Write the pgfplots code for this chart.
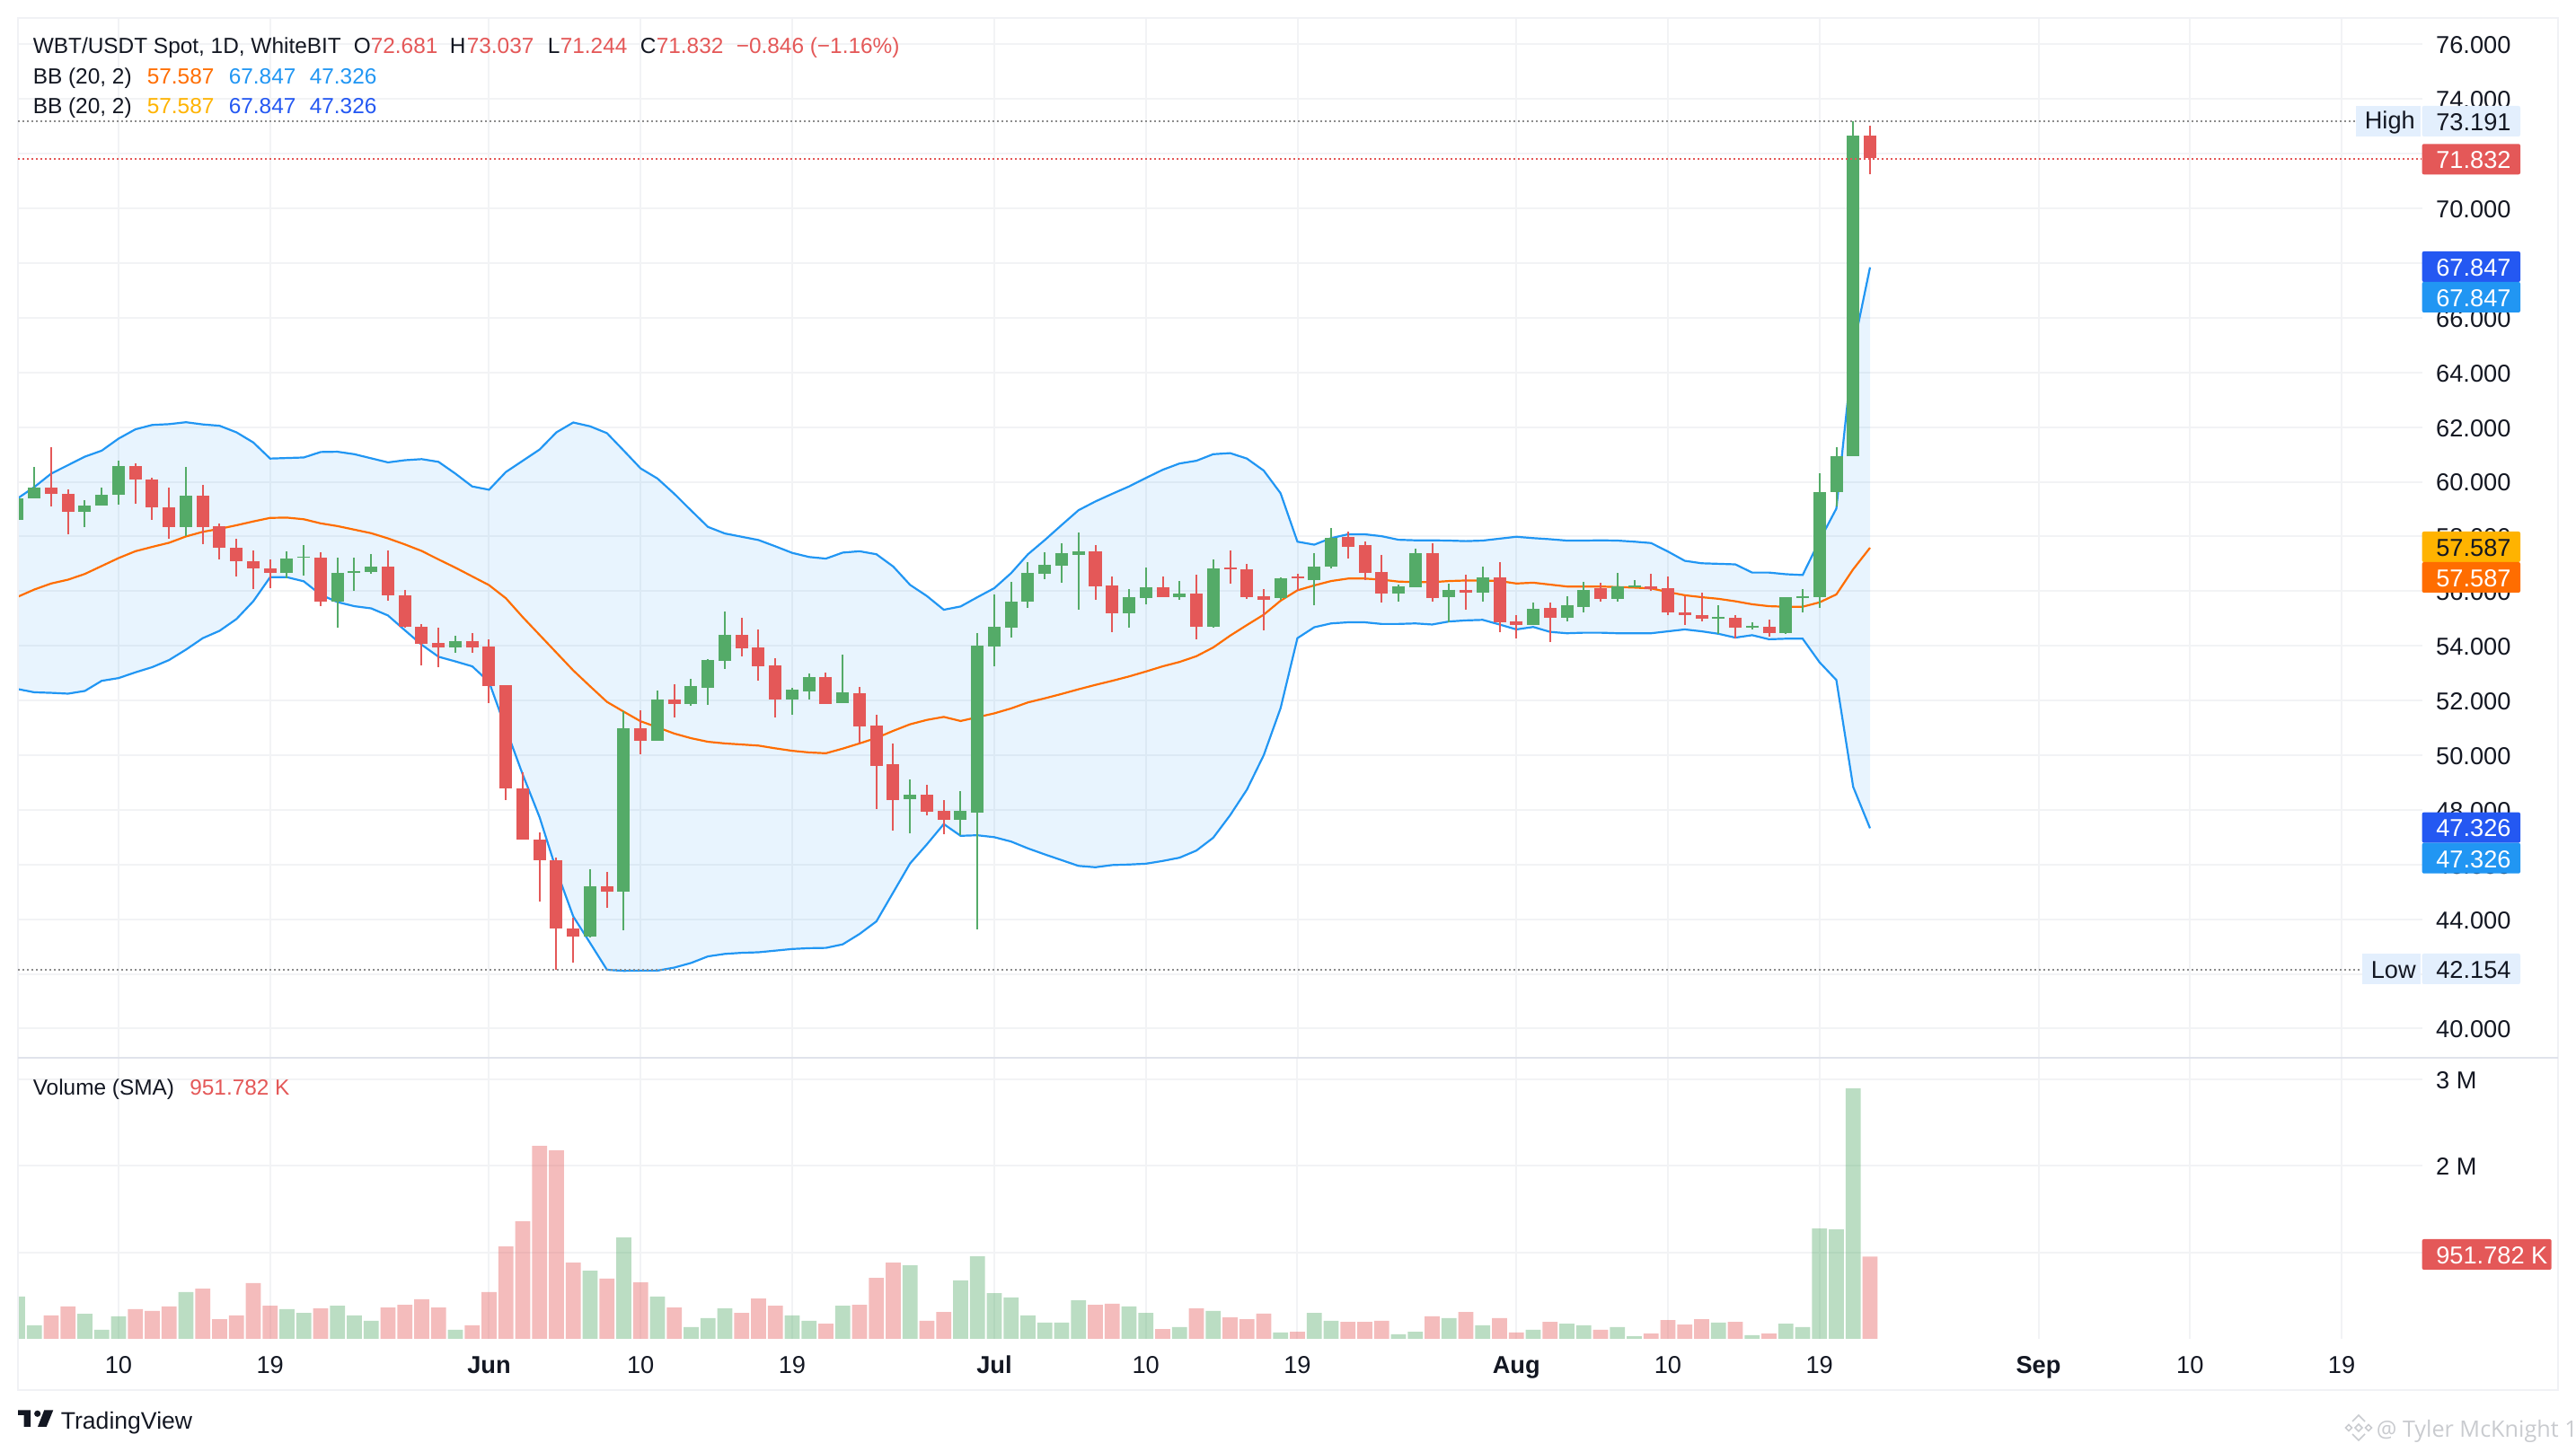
\documentclass[border=0pt]{standalone}
\usepackage{pgfplots}
\usepackage{pgfplotstable}
\usepackage{fontspec}
\setmainfont{Liberation Sans}
\newfontfamily\wmfont{Open Sans}
\pgfplotsset{compat=1.18}
\usepgfplotslibrary{fillbetween}
\definecolor{tvgreen}{HTML}{54AB68}
\definecolor{tvred}{HTML}{E45858}
\definecolor{bbblue}{HTML}{2196F3}
\definecolor{bbdark}{HTML}{2458F2}
\definecolor{bborange}{HTML}{FF6D00}
\definecolor{bbamber}{HTML}{FFB300}
\definecolor{txt}{HTML}{131722}
\definecolor{gridc}{HTML}{F2F3F5}
\definecolor{borderc}{HTML}{F0F1F5}
\definecolor{sepc}{HTML}{E0E3EB}
\definecolor{hlbg}{HTML}{E3EFFD}
\definecolor{wm}{HTML}{C9CBCF}

% d open high low close volume(M)
\pgfplotstableread{
d o h l c v
-6 58.59 60.17 58.42 59.39 0.488
-5 59.38 60.56 59.38 59.78 0.156
-2 58.91 59.33 58.34 59.13 0.290
-1 59.12 59.78 59.12 59.51 0.104
0 59.51 60.78 59.18 60.57 0.260
4 58.35 60.56 58.03 59.49 0.540
10 56.66 57.46 56.46 57.20 0.343
11 57.21 57.69 56.58 57.27 0.301
13 55.61 57.23 54.65 56.67 0.384
14 56.66 57.23 56.02 56.72 0.270
15 56.69 57.37 56.64 56.90 0.208
20 53.93 54.37 53.75 54.18 0.104
28 43.38 45.82 43.32 45.20 0.789
30 45.00 51.61 43.58 50.97 1.173
32 50.54 52.37 50.54 52.04 0.488
34 51.87 52.79 51.80 52.53 0.135
35 52.47 53.52 51.84 53.48 0.239
36 53.46 55.25 53.15 54.40 0.353
40 52.05 52.46 51.47 52.40 0.270
41 52.34 52.99 52.04 52.86 0.208
43 51.91 53.68 51.91 52.30 0.384
47 48.39 49.11 47.14 48.55 0.851
50 47.64 48.68 47.07 47.96 0.675
51 47.89 54.47 43.62 54.01 0.955
52 53.97 55.88 53.25 54.70 0.529
53 54.67 56.35 54.30 55.62 0.478
54 55.62 57.06 55.38 56.67 0.270
55 56.64 57.42 56.44 56.97 0.187
56 56.94 57.75 56.31 57.39 0.187
57 57.33 58.15 55.32 57.46 0.446
60 55.19 56.08 54.67 55.78 0.374
61 55.75 56.86 55.52 56.15 0.301
63 55.78 56.37 55.69 55.91 0.135
65 54.71 57.17 54.67 56.84 0.322
69 55.74 56.50 55.68 56.46 0.073
71 56.39 57.38 55.50 56.91 0.301
72 56.89 58.30 56.82 57.94 0.208
76 55.90 56.24 55.63 56.19 0.052
77 56.13 57.54 56.13 57.38 0.083
79 55.77 56.26 54.87 56.06 0.239
81 55.95 56.91 55.63 56.51 0.156
84 54.75 55.59 54.75 55.34 0.104
86 55.03 55.83 54.91 55.50 0.176
87 55.43 56.33 55.23 56.06 0.156
89 55.70 56.66 55.61 56.17 0.135
90 56.13 56.42 56.13 56.22 0.031
95 54.98 55.50 54.44 55.05 0.187
97 54.67 54.85 54.60 54.74 0.042
99 54.48 55.78 54.42 55.78 0.176
100 55.74 56.08 55.23 55.83 0.135
101 55.79 60.33 55.40 59.63 1.277
102 59.61 61.27 59.11 60.95 1.266
103 60.95 73.19 60.95 72.66 2.896
}\upT
\pgfplotstableread{
d o h l c v
-4 59.78 61.26 59.11 59.57 0.270
-3 59.57 59.71 58.08 58.91 0.374
1 60.57 60.69 59.20 60.09 0.343
2 60.10 60.14 58.59 59.05 0.322
3 59.07 59.78 57.90 58.35 0.374
5 59.49 59.88 57.71 58.35 0.581
6 58.38 58.48 57.17 57.58 0.228
7 57.58 57.93 56.53 57.08 0.270
8 57.10 57.50 56.09 56.82 0.644
9 56.82 57.16 56.11 56.66 0.384
12 57.23 57.43 55.46 55.61 0.353
16 56.90 57.50 55.66 55.84 0.363
17 55.84 56.05 54.65 54.69 0.394
18 54.70 54.79 53.30 54.06 0.457
19 54.09 54.67 53.23 53.93 0.363
21 54.18 54.47 53.75 53.93 0.156
22 53.96 54.25 51.92 52.52 0.540
23 52.55 52.55 48.35 48.79 1.069
24 48.80 49.37 46.92 46.92 1.360
25 46.92 47.17 44.64 46.17 2.232
26 46.17 46.25 42.154 43.67 2.180
27 43.66 44.06 42.41 43.38 0.882
29 45.20 45.73 44.42 45.00 0.696
31 50.97 51.65 50.02 50.54 0.654
33 52.04 52.59 51.38 51.87 0.363
37 54.40 55.03 53.61 53.92 0.301
38 53.93 54.60 52.73 53.26 0.467
39 53.27 53.54 51.38 52.05 0.384
42 52.86 53.01 51.87 51.87 0.176
44 52.26 52.50 50.44 51.05 0.394
45 51.09 51.47 48.02 49.61 0.706
46 49.67 50.43 47.24 48.35 0.882
48 48.55 48.92 47.80 47.92 0.208
49 47.96 48.35 47.11 47.64 0.311
58 57.46 57.68 55.69 56.18 0.394
59 56.20 56.53 54.50 55.19 0.405
62 56.15 56.53 55.78 55.78 0.114
64 55.91 56.60 54.23 54.71 0.353
66 56.86 57.48 56.27 56.81 0.249
67 56.80 57.00 55.72 55.78 0.228
68 55.82 56.08 54.57 55.69 0.291
70 56.53 56.62 56.01 56.48 0.083
73 57.97 58.17 57.18 57.63 0.197
74 57.67 57.83 56.39 56.66 0.197
75 56.71 57.34 55.58 55.90 0.208
78 57.38 57.74 55.63 55.74 0.260
80 56.05 56.59 55.31 55.95 0.311
82 56.51 57.05 54.51 54.87 0.239
83 54.91 55.14 54.28 54.75 0.073
85 55.38 55.58 54.15 55.03 0.197
88 56.10 56.30 55.61 55.70 0.104
91 56.19 56.62 56.01 56.08 0.062
92 56.10 56.55 55.11 55.22 0.218
93 55.22 55.81 54.75 55.11 0.166
94 55.14 55.95 54.91 54.98 0.228
96 55.03 55.14 54.28 54.67 0.197
98 54.71 54.95 54.35 54.48 0.062
104 72.681 73.037 71.244 71.832 0.952
}\downT
% d upper basis lower
\pgfplotstableread{
d u m l
-6 59.39 55.79 52.42
-5 59.81 56.06 52.30
-4 60.30 56.28 52.28
-3 60.61 56.42 52.25
-2 60.92 56.63 52.35
-1 61.14 56.92 52.72
0 61.58 57.21 52.82
1 61.92 57.46 53.03
2 62.08 57.62 53.22
3 62.11 57.77 53.48
4 62.18 58.00 53.86
5 62.10 58.17 54.28
6 62.05 58.28 54.55
7 61.81 58.41 54.98
8 61.44 58.55 55.63
9 60.85 58.68 56.51
10 60.87 58.69 56.51
11 60.89 58.63 56.36
12 61.09 58.48 55.87
13 61.10 58.38 55.60
14 61.01 58.25 55.45
15 60.86 58.12 55.37
16 60.71 57.93 55.11
17 60.79 57.71 54.57
18 60.83 57.47 54.04
19 60.73 57.16 53.60
20 60.30 56.86 53.43
21 59.83 56.54 53.25
22 59.71 56.22 52.68
23 60.36 55.74 50.97
24 60.77 55.05 49.29
25 61.18 54.40 47.73
26 61.81 53.75 45.79
27 62.17 53.10 44.10
28 62.03 52.52 43.13
29 61.78 51.95 42.15
30 61.14 51.59 42.11
31 60.49 51.24 42.12
32 60.12 51.02 42.12
33 59.56 50.79 42.23
34 58.95 50.62 42.40
35 58.35 50.49 42.64
36 58.11 50.43 42.73
37 57.99 50.39 42.77
38 57.87 50.35 42.79
39 57.64 50.25 42.85
40 57.40 50.16 42.91
41 57.25 50.10 42.94
42 57.19 50.07 42.95
43 57.41 50.24 43.08
44 57.46 50.43 43.46
45 57.35 50.63 43.92
46 56.90 50.89 44.98
47 56.23 51.13 46.04
48 55.82 51.29 46.74
49 55.32 51.40 47.48
50 55.44 51.25 47.05
51 55.78 51.39 47.07
52 56.11 51.53 47.00
53 56.66 51.71 46.84
54 57.35 51.93 46.59
55 57.87 52.08 46.37
56 58.42 52.24 46.16
57 58.96 52.41 45.95
58 59.28 52.57 45.90
59 59.56 52.72 45.98
60 59.83 52.88 46.00
61 60.14 53.06 46.03
62 60.44 53.25 46.13
63 60.67 53.41 46.25
64 60.77 53.62 46.51
65 61.01 53.94 46.98
66 61.05 54.37 47.80
67 60.85 54.76 48.74
68 60.41 55.14 50.00
69 59.58 55.65 51.72
70 57.81 56.03 54.28
71 57.70 56.21 54.68
72 57.94 56.37 54.82
73 58.08 56.46 54.86
74 58.08 56.46 54.86
75 58.01 56.42 54.80
76 57.88 56.35 54.80
77 57.86 56.33 54.82
78 57.86 56.33 54.78
79 57.85 56.37 54.89
80 57.83 56.39 54.93
81 57.85 56.39 54.95
82 57.92 56.37 54.78
83 57.99 56.28 54.60
84 57.94 56.31 54.69
85 57.90 56.24 54.51
86 57.85 56.17 54.46
87 57.85 56.17 54.48
88 57.86 56.17 54.48
89 57.85 56.15 54.46
90 57.81 56.13 54.46
91 57.76 56.10 54.46
92 57.45 55.97 54.53
93 57.11 55.85 54.60
94 57.02 55.78 54.53
95 57.00 55.72 54.44
96 56.98 55.63 54.30
97 56.68 55.52 54.39
98 56.68 55.45 54.24
99 56.62 55.43 54.26
100 56.59 55.43 54.26
101 57.85 55.59 53.40
102 59.02 55.88 52.75
103 64.87 56.80 48.84
104 67.847 57.587 47.326
}\bbT

\newcommand{\fs}{\fontsize{6.8}{7.5}\selectfont}
\newcommand{\fl}{\fontsize{6.1}{7}\selectfont}
\newcommand{\badge}[4]{%
  \fill[#1,rounded corners=0.5pt] (2696.6,#2-17) rectangle (2806,#2+17);
  \node[anchor=west,text=#3,font=\fs,inner sep=0] at (2711.5,#2+1) {#4};}

\pgfplotsset{
  tvaxis/.style={
    scale only axis, width=669.15pt,
    xmin=-5.973, xmax=136.78,
    xtick={0,9,22,31,40,52,61,70,83,92,101,114,123,132},
    major tick length=0pt,
    axis line style={draw=none},
    tick style={draw=none},
    grid=major,
    major grid style={draw=gridc,line width=0.5pt},
    yticklabel pos=right,
    yticklabel style={anchor=west,inner sep=0pt,xshift=3.7pt,yshift=-0.25pt,font=\fs,text=txt},
  },
  wick/.style={draw=none,no markers,forget plot,
    error bars/.cd,y dir=both,y explicit,error mark=none,
    error bar style={solid,draw=#1,line width=0.5pt}},
  body/.style={draw=none,no markers,forget plot,
    error bars/.cd,y dir=both,y explicit,error mark=none,
    error bar style={solid,draw=#1,line width=3.5pt}},
}

\begin{document}
\begin{tikzpicture}

\begin{axis}[tvaxis, name=price,
  at={(5pt,109.5pt)}, anchor=south west, height=289.5pt,
  ymin=38.93, ymax=76.969,
  ytick={40,42,...,76},
  yticklabel={\pgfmathprintnumber[fixed,fixed zerofill,precision=3,assume math mode=true]{\tick}},
  xticklabels={},
]
\addplot[draw=bbblue,line width=0.55pt,name path=upper,forget plot] table[x=d,y=u]{\bbT};
\addplot[draw=bbblue,line width=0.55pt,name path=lower,forget plot] table[x=d,y=l]{\bbT};
\addplot[fill=bbblue,fill opacity=0.1,draw=none,forget plot] fill between[of=upper and lower];
\addplot[draw=bborange,line width=0.55pt,forget plot] table[x=d,y=m]{\bbT};

\addplot[wick=tvgreen] table[x=d,y=c,y error plus expr=\thisrow{h}-\thisrow{c},y error minus expr=\thisrow{c}-\thisrow{l}]{\upT};
\addplot[body=tvgreen] table[x=d,y=c,y error plus expr=0,y error minus expr=\thisrow{c}-\thisrow{o}]{\upT};
\addplot[wick=tvred] table[x=d,y=o,y error plus expr=\thisrow{h}-\thisrow{o},y error minus expr=\thisrow{o}-\thisrow{l}]{\downT};
\addplot[body=tvred] table[x=d,y=o,y error plus expr=0,y error minus expr=\thisrow{o}-\thisrow{c}]{\downT};
\end{axis}

\begin{axis}[tvaxis, name=vol,
  at={(5pt,31.25pt)}, anchor=south west, height=78.25pt,
  ymin=0, ymax=3.25,
  ytick={1,2,3},
  yticklabels={1 M,2 M,3 M},
  xticklabels={10,19,{\bfseries Jun},10,19,{\bfseries Jul},10,19,{\bfseries Aug},10,19,{\bfseries Sep},10,19},
  xticklabel style={anchor=base,inner sep=0pt,font=\fs,text=txt,yshift=-9.75pt},
]
\addplot[ybar,bar width=4.2pt,bar shift=0pt,draw=none,fill=tvgreen,fill opacity=0.4,forget plot] table[x=d,y=v]{\upT};
\addplot[ybar,bar width=4.2pt,bar shift=0pt,draw=none,fill=tvred,fill opacity=0.4,forget plot] table[x=d,y=v]{\downT};
\end{axis}

\begin{scope}[x=0.25pt,y=-0.25pt,yshift=404pt]
  % frame
  \draw[borderc,line width=0.5pt] (20,20) rectangle (2848,1548);
  \draw[sepc,line width=0.5pt] (20,1178) -- (2848,1178);
  % horizontal marker lines
  \draw[gray!90,line width=0.5pt,dash pattern=on 0.5pt off 0.75pt] (20,135) -- (2622,135);
  \draw[gray!90,line width=0.5pt,dash pattern=on 0.5pt off 0.75pt] (20,1080) -- (2630,1080);
  \draw[tvred,line width=0.5pt,dash pattern=on 0.5pt off 0.75pt] (20,177) -- (2696,177);
  % badges
  \fill[hlbg] (2622.5,118) rectangle (2694.6,152);
  \node[anchor=west,text=txt,font=\fs,inner sep=0] at (2632,136) {High};
  \badge{hlbg}{135}{txt}{73.191}
  \badge{tvred}{177.3}{white}{71.832}
  \badge{bbdark}{297}{white}{67.847}
  \badge{bbblue}{331}{white}{67.847}
  \badge{bbamber}{609}{txt}{57.587}
  \badge{bborange}{643}{white}{57.587}
  \badge{bbdark}{921.6}{white}{47.326}
  \badge{bbblue}{955.7}{white}{47.326}
  \fill[hlbg] (2630.4,1062) rectangle (2694.6,1096);
  \node[anchor=west,text=txt,font=\fs,inner sep=0] at (2639,1080) {Low};
  \badge{hlbg}{1079}{txt}{42.154}
  \fill[tvred,rounded corners=0.5pt] (2696.6,1380) rectangle (2840.7,1414);
  \node[anchor=west,text=white,font=\fs,inner sep=0] at (2711.5,1398) {951.782 K};
  % legends
  \tikzset{lg/.style={anchor=base west,inner sep=0,font=\fl}}
  \node[lg,text=txt] at (36,60) {WBT/USDT Spot, 1D, WhiteBIT};
  \node[lg,text=txt] at (393,60) {O};
  \node[lg,text=tvred] at (412,60) {72.681};
  \node[lg,text=txt] at (500,60) {H};
  \node[lg,text=tvred] at (519,60) {73.037};
  \node[lg,text=txt] at (609,60) {L};
  \node[lg,text=tvred] at (623,60) {71.244};
  \node[lg,text=txt] at (712,60) {C};
  \node[lg,text=tvred] at (730,60) {71.832};
  \node[lg,text=tvred] at (819,60) {−0.846 (−1.16\%)};
  \node[lg,text=txt] at (36,93.7) {BB (20, 2)};
  \node[lg,text=bborange] at (163,93.7) {57.587};
  \node[lg,text=bbblue] at (254,93.7) {67.847};
  \node[lg,text=bbblue] at (344,93.7) {47.326};
  \node[lg,text=txt] at (36,127) {BB (20, 2)};
  \node[lg,text=bbamber] at (163,127) {57.587};
  \node[lg,text=bbdark] at (254,127) {67.847};
  \node[lg,text=bbdark] at (344,127) {47.326};
  \node[lg,text=txt] at (36,1219.6) {Volume (SMA)};
  \node[lg,text=tvred] at (210.5,1219.6) {951.782 K};
  % TradingView logo
  \fill[txt] (20,1570.3) -- (34,1570.3) -- (34,1589) -- (26.7,1589) -- (26.7,1576) -- (20,1576) -- cycle;
  \fill[txt] (41.7,1574.3) circle[radius=0.9pt];
  \fill[txt] (49.3,1570.3) -- (59.3,1570.3) -- (51.7,1589) -- (42,1589) -- cycle;
  \node[anchor=base west,inner sep=0,text=txt,font=\fontsize{6.65}{8}\selectfont] at (67,1591.7) {TradingView};
  % watermark
  \node[anchor=base west,inner sep=0,text=wm,font=\wmfont\fontsize{6.3}{8}\selectfont] at (2645,1600) {@ Tyler McKnight 1};
  \draw[wm,line width=0.4pt] (2626,1586) -- (2630,1590) -- (2626,1594) -- (2622,1590) -- cycle;
  \draw[wm,line width=0.4pt] (2619,1583) -- (2626,1576) -- (2633,1583);
  \draw[wm,line width=0.4pt] (2619,1597) -- (2626,1604) -- (2633,1597);
  \draw[wm,line width=0.4pt] (2615,1586.5) -- (2618.5,1590) -- (2615,1593.5) -- (2611.5,1590) -- cycle;
  \draw[wm,line width=0.4pt] (2637,1586.5) -- (2640.5,1590) -- (2637,1593.5) -- (2633.5,1590) -- cycle;
\end{scope}
\pgfresetboundingbox
\path[use as bounding box] (0,0) rectangle (717pt,404pt);
\end{tikzpicture}
\end{document}
